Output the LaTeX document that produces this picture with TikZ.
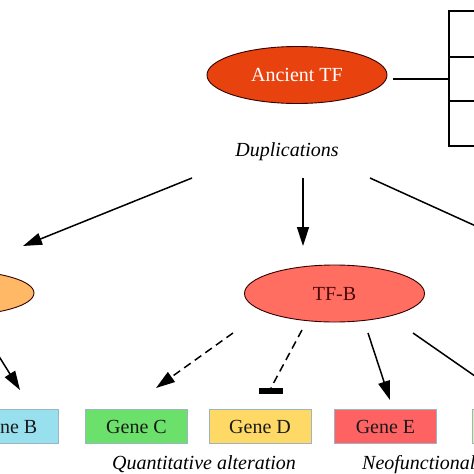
\documentclass[tikz,border=0pt]{standalone}
\usepackage{fontspec}
\setmainfont{Liberation Serif}
\usetikzlibrary{shapes.geometric,arrows.meta}
\definecolor{ancientc}{HTML}{E8420F}
\definecolor{tfbc}{HTML}{FF6E60}
\definecolor{tfac}{HTML}{FFB866}
\definecolor{tfbtext}{HTML}{4A0A0A}
\definecolor{genebc}{HTML}{99E0EE}
\definecolor{genecc}{HTML}{6BE06B}
\definecolor{genedc}{HTML}{FFD966}
\definecolor{geneec}{HTML}{FF6262}
\definecolor{genefc}{HTML}{DDF0A8}
\definecolor{boxborder}{HTML}{9DB5C2}
\definecolor{genetext}{HTML}{1A1A1A}
\tikzset{
  tfnode/.style={ellipse, draw=black!80!red, line width=0.9pt, minimum width=180pt, minimum height=57pt, inner sep=0pt, font=\fontsize{20}{24}\selectfont},
  genebox/.style={rectangle, draw=boxborder, line width=1pt, minimum width=102pt, minimum height=34pt, inner sep=0pt, text=genetext, font=\fontsize{20}{24}\selectfont},
  lbl/.style={font=\fontsize{20}{24}\selectfont\itshape, inner sep=0pt, anchor=base},
  conn/.style={line width=1.5pt, black},
  arr/.style={conn, -{Triangle[length=19pt,width=12pt]}},
  darr/.style={arr, dash pattern=on 8pt off 5pt},
  dline/.style={conn, dash pattern=on 8pt off 5pt},
  cellline/.style={line width=1.3pt, black}
}
\begin{document}
\begin{tikzpicture}[x=1pt,y=-1pt]
\useasboundingbox (0,0) rectangle (474,474);
\clip (0,0) rectangle (474,474);
\fill[white] (0,0) rectangle (474,474);

% top
\node[tfnode, fill=ancientc, text=white] (anc) at (297,75) {Ancient TF};
\coordinate (ancout) at (393,79);
\coordinate (tabjoin) at (449,79);
\draw[cellline] (ancout) -- (tabjoin);
\draw[cellline] (449,11) rectangle (495,146);
\draw[cellline] (449,57) -- (495,57);
\draw[cellline] (449,101) -- (495,101);

\node[lbl] (dup) at (287,156) {Duplications};

% second level
\node[tfnode, fill=tfac, minimum width=150pt, minimum height=44pt] (tfa) at (-41,293) {};
\node[tfnode, fill=tfbc, text=tfbtext] (tfb) at (334.5,293.5) {TF-B};

\coordinate (d1s) at (192,178); \coordinate (d1e) at (23,246);
\coordinate (d2s) at (303,178); \coordinate (d2e) at (303,246);
\coordinate (d3s) at (370,178); \coordinate (d3e) at (500,237);
\draw[arr] (d1s) -- (d1e);
\draw[arr] (d2s) -- (d2e);
\draw[conn] (d3s) -- (d3e);

% genes
\node[genebox, fill=genebc] (geneb) at (7,426.5) {Gene B};
\node[genebox, fill=genecc] (genec) at (136.5,426.5) {Gene C};
\node[genebox, fill=genedc] (gened) at (260,426.5) {Gene D};
\node[genebox, fill=geneec] (genee) at (385.5,426.5) {Gene E};
\node[genebox, fill=genefc] (genef) at (523,426.5) {};

% bottom connectors
\coordinate (ba1) at (-10,342); \coordinate (ba2) at (20,390);
\draw[arr] (ba1) -- (ba2);
\coordinate (c1) at (233,333); \coordinate (c2) at (156,388);
\draw[darr] (c1) -- (c2);
\node[rectangle, fill=black, minimum width=24pt, minimum height=6pt, inner sep=0pt] (tbar) at (271,391) {};
\coordinate (t1) at (302,330);
\draw[dline] (t1) -- (tbar.north);
\coordinate (e1) at (368,333); \coordinate (e2) at (390,400);
\draw[arr] (e1) -- (e2);
\coordinate (f1) at (413,333); \coordinate (f2) at (495,390);
\draw[conn] (f1) -- (f2);

\node[lbl] (quant) at (204,469) {Quantitative alteration};
\node[lbl, anchor=base west] (neo) at (362,469) {Neofunctionalization};
\end{tikzpicture}
\end{document}
